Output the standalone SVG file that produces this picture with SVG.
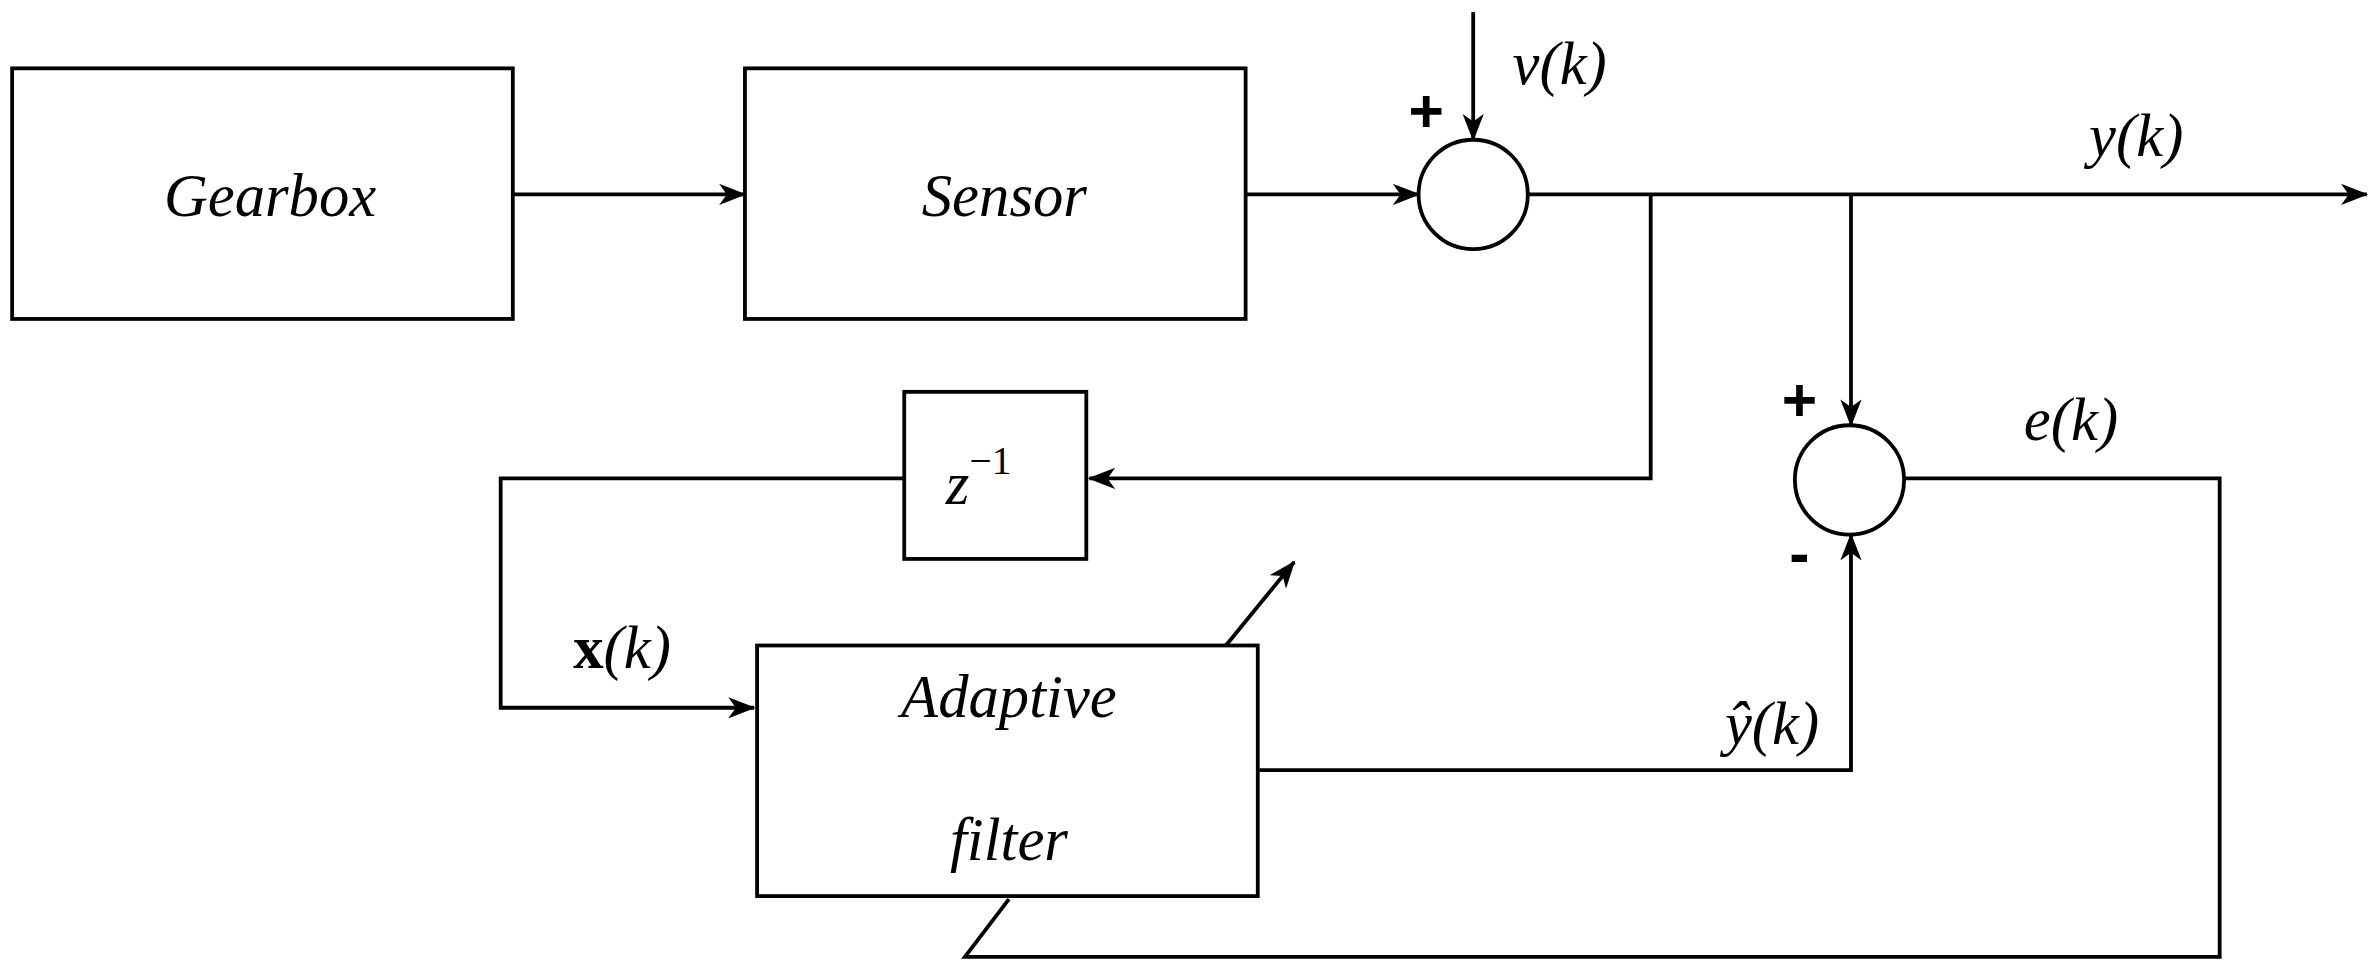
<svg xmlns="http://www.w3.org/2000/svg" width="2379" height="969" viewBox="0 0 2379 969">
<style>
.b{fill:#fff;stroke:#000;stroke-width:2.5}
.l{fill:none;stroke:#000;stroke-width:2.5}
.t{font-family:"Liberation Serif","DejaVu Serif",serif;font-style:italic;font-size:40px;text-anchor:middle}
.s{font-family:"Liberation Sans",sans-serif;font-weight:bold;font-size:40px;text-anchor:middle}
</style>
<defs><marker id="A" markerWidth="18" markerHeight="14" refX="17" refY="7" orient="auto" markerUnits="userSpaceOnUse"><path d="M0,0 L18,7 L0,14 L5,7 z" fill="#000"/></marker></defs>
<rect width="2379" height="969" fill="#fff"/>
<g transform="scale(1.5172,1.5188)">
<g id="connectors">
<line class="l" x1="338" y1="128" x2="491" y2="128" marker-end="url(#A)"/>
<line class="l" x1="821" y1="128" x2="935" y2="128" marker-end="url(#A)"/>
<line class="l" x1="971" y1="8" x2="971" y2="92" marker-end="url(#A)"/>
<line class="l" x1="1007" y1="128" x2="1560" y2="128" marker-end="url(#A)"/>
<polyline class="l" points="1088,128 1088,315 718,315" marker-end="url(#A)"/>
<polyline class="l" points="596,315 330,315 330,466 497,466" marker-end="url(#A)"/>
<line class="l" x1="1220" y1="128" x2="1220" y2="280" marker-end="url(#A)"/>
<polyline class="l" points="830,507 1220,507 1220,352" marker-end="url(#A)"/>
<polyline class="l" points="1255,315 1463,315 1463,630 636,630 665,592"/>
<line class="l" x1="808" y1="425" x2="853" y2="370" marker-end="url(#A)"/>
</g>
<g id="gearbox"><rect class="b" x="8" y="45" width="330" height="165"/><text class="t" x="178" y="142">Gearbox</text></g>
<g id="sensor"><rect class="b" x="491" y="45" width="330" height="165"/><text class="t" x="662" y="142">Sensor</text></g>
<g id="sum1"><circle class="b" cx="971" cy="128" r="36"/><text class="s" x="940" y="87">+</text></g>
<g id="sum2"><circle class="b" cx="1219" cy="316" r="36"/><text class="s" x="1186" y="277">+</text><text class="s" x="1186" y="378">-</text></g>
<g id="delay"><rect class="b" x="596" y="258" width="120" height="110"/><text class="t" x="645" y="332">z<tspan font-size="26" dy="-20" font-style="normal">−1</tspan></text></g>
<g id="adaptive"><rect class="b" x="499" y="425" width="330" height="165"/><text class="t" x="665" y="472">Adaptive</text><text class="t" x="665" y="566">filter</text></g>
<g id="labels">
<text class="t" x="1028" y="55">v(k)</text>
<text class="t" x="1408" y="103">y(k)</text>
<text class="t" x="1365" y="290">e(k)</text>
<text class="t" x="410" y="440"><tspan font-style="normal" font-weight="bold">x</tspan>(k)</text>
<text class="t" x="1168" y="490">ŷ(k)</text>
</g>
</g>
</svg>
